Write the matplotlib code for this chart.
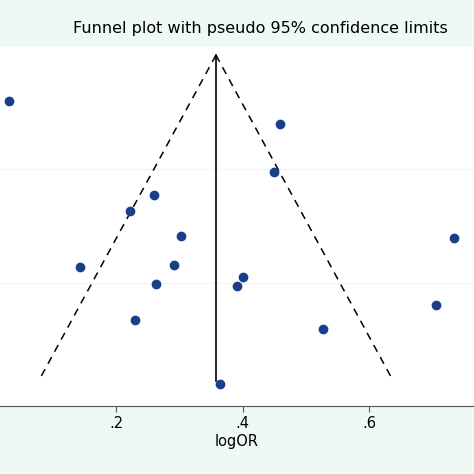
import matplotlib
matplotlib.use("Agg")
import matplotlib.pyplot as plt
import numpy as np

logOR = [0.031, 0.459, 0.450, 0.260, 0.222, 0.303, 0.734, 0.143, 0.292, 0.263, 0.401, 0.391, 0.230, 0.706, 0.527, 0.364]
se = [0.0202, 0.0303, 0.0513, 0.0614, 0.0684, 0.0794, 0.0803, 0.0930, 0.0921, 0.1004, 0.0974, 0.1013, 0.1162, 0.1096, 0.1202, 0.1443]
pooled = 0.358
se_max = 0.143

fig = plt.figure(figsize=(4.74, 4.74), dpi=100, facecolor="#eef9f6")
ax = fig.add_axes([0, 0.1435, 1, 0.757])
ax.set_facecolor("white")
ax.set_xlim(0.0166, 0.766)
ax.set_ylim(0.154, -0.0035)
for g in [0.05, 0.1]:
    ax.axhline(g, color="#eef5f3", lw=1, zorder=0)
s = np.array([0, se_max])
ax.plot(pooled - 1.96 * s, s, "k--", lw=1.1, dashes=(5, 4))
ax.plot(pooled + 1.96 * s, s, "k--", lw=1.1, dashes=(5, 4))
ax.plot([pooled, pooled], [0, se_max], color="black", lw=1.2)
ax.scatter(logOR, se, s=36, color="#1a3f8a", zorder=3, clip_on=False)
for sp in ["top", "right", "left"]:
    ax.spines[sp].set_visible(False)
ax.spines["bottom"].set_color("#555555")
ax.set_yticks([])
ax.set_xticks([0.2, 0.4, 0.6])
ax.set_xticklabels([".2", ".4", ".6"], fontsize=10.5)
ax.tick_params(axis="x", length=4, color="#555555")
ax.set_xlabel("logOR", fontsize=10.5, labelpad=2)
fig.text(0.55, 0.94, "Funnel plot with pseudo 95% confidence limits", ha="center", va="center", fontsize=11.5)
fig.savefig("out.png", dpi=100, facecolor=fig.get_facecolor())
